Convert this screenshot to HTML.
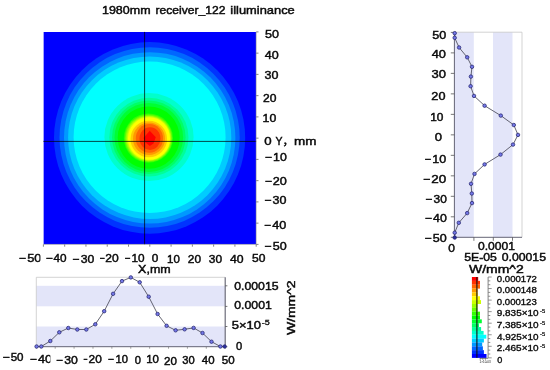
<!DOCTYPE html>
<html><head><meta charset="utf-8"><title>1980mm receiver_122 illuminance</title>
<style>
html,body{margin:0;padding:0;background:#fff}
body{width:550px;height:370px;overflow:hidden}
svg{display:block}
text{font-family:"Liberation Sans","Noto Sans CJK SC",sans-serif;fill:#0a0a0a;stroke:#0a0a0a;stroke-width:0.45px;paint-order:stroke}
</style></head><body>
<svg width="550" height="370" viewBox="0 0 550 370">
<rect width="550" height="370" fill="#fff"/>
<clipPath id="hc"><rect x="43.4" y="31.9" width="212.8" height="212.5"/></clipPath>
<g clip-path="url(#hc)">
<rect x="43.4" y="31.9" width="212.8" height="212.5" fill="#0000ff"/>
<ellipse cx="149.6" cy="137.9" rx="95.6" ry="95.8" fill="#0033ff"/>
<ellipse cx="149.6" cy="137.5" rx="90.1" ry="90.3" fill="#0066ff"/>
<ellipse cx="149.7" cy="137.9" rx="85.7" ry="85.7" fill="#0099ff"/>
<ellipse cx="149.7" cy="137.7" rx="81.6" ry="81.3" fill="#00ccff"/>
<ellipse cx="149.6" cy="137.3" rx="76.0" ry="75.7" fill="#00ffff"/>
<ellipse cx="149.0" cy="137.1" rx="44.6" ry="44.0" fill="#00ffcc"/>
<ellipse cx="148.9" cy="137.2" rx="39.6" ry="39.4" fill="#00ff99"/>
<ellipse cx="148.8" cy="137.3" rx="36.8" ry="36.8" fill="#00ff66"/>
<ellipse cx="148.8" cy="137.4" rx="34.3" ry="34.5" fill="#00ff33"/>
<ellipse cx="148.7" cy="137.6" rx="31.0" ry="31.2" fill="#00ff00"/>
<ellipse cx="148.4" cy="138.1" rx="24.6" ry="24.6" fill="#33ff00"/>
<ellipse cx="148.5" cy="138.2" rx="23.7" ry="23.8" fill="#66ff00"/>
<ellipse cx="148.6" cy="138.3" rx="22.8" ry="22.9" fill="#99ff00"/>
<ellipse cx="148.8" cy="138.4" rx="21.9" ry="22.1" fill="#ccff00"/>
<ellipse cx="149.0" cy="138.5" rx="21.0" ry="21.3" fill="#ffff00"/>
<ellipse cx="148.8" cy="139.0" rx="18.3" ry="18.3" fill="#ffcc00"/>
<ellipse cx="149.0" cy="138.7" rx="16.0" ry="16.3" fill="#ff9900"/>
<ellipse cx="149.4" cy="138.4" rx="13.6" ry="14.4" fill="#ff6600"/>
<ellipse cx="150.0" cy="138.6" rx="10.5" ry="11.3" fill="#ff3300"/>
<polygon points="149.7,130.8 155.8,137.2 153.5,143.5 149.8,146.0 145.5,142.5 143.5,138.0" fill="#ff0000"/>
</g>
<line x1="144.6" y1="31.9" x2="144.6" y2="244.4" stroke="#000" stroke-width="0.9" opacity="0.8"/>
<line x1="43.4" y1="141.4" x2="256.2" y2="141.4" stroke="#000" stroke-width="0.9" opacity="0.8"/>
<path d="M256.2 31.9V244.4H43.4" fill="none" stroke="#999" stroke-width="0.6"/>
<line x1="256.2" y1="31.90" x2="258.5" y2="31.90" stroke="#666" stroke-width="0.8"/>
<line x1="43.40" y1="244.4" x2="43.40" y2="246.70000000000002" stroke="#666" stroke-width="0.8"/>
<line x1="256.2" y1="53.15" x2="258.5" y2="53.15" stroke="#666" stroke-width="0.8"/>
<line x1="64.68" y1="244.4" x2="64.68" y2="246.70000000000002" stroke="#666" stroke-width="0.8"/>
<line x1="256.2" y1="74.40" x2="258.5" y2="74.40" stroke="#666" stroke-width="0.8"/>
<line x1="85.96" y1="244.4" x2="85.96" y2="246.70000000000002" stroke="#666" stroke-width="0.8"/>
<line x1="256.2" y1="95.65" x2="258.5" y2="95.65" stroke="#666" stroke-width="0.8"/>
<line x1="107.24" y1="244.4" x2="107.24" y2="246.70000000000002" stroke="#666" stroke-width="0.8"/>
<line x1="256.2" y1="116.90" x2="258.5" y2="116.90" stroke="#666" stroke-width="0.8"/>
<line x1="128.52" y1="244.4" x2="128.52" y2="246.70000000000002" stroke="#666" stroke-width="0.8"/>
<line x1="256.2" y1="138.15" x2="258.5" y2="138.15" stroke="#666" stroke-width="0.8"/>
<line x1="149.80" y1="244.4" x2="149.80" y2="246.70000000000002" stroke="#666" stroke-width="0.8"/>
<line x1="256.2" y1="159.40" x2="258.5" y2="159.40" stroke="#666" stroke-width="0.8"/>
<line x1="171.08" y1="244.4" x2="171.08" y2="246.70000000000002" stroke="#666" stroke-width="0.8"/>
<line x1="256.2" y1="180.65" x2="258.5" y2="180.65" stroke="#666" stroke-width="0.8"/>
<line x1="192.36" y1="244.4" x2="192.36" y2="246.70000000000002" stroke="#666" stroke-width="0.8"/>
<line x1="256.2" y1="201.90" x2="258.5" y2="201.90" stroke="#666" stroke-width="0.8"/>
<line x1="213.64" y1="244.4" x2="213.64" y2="246.70000000000002" stroke="#666" stroke-width="0.8"/>
<line x1="256.2" y1="223.15" x2="258.5" y2="223.15" stroke="#666" stroke-width="0.8"/>
<line x1="234.92" y1="244.4" x2="234.92" y2="246.70000000000002" stroke="#666" stroke-width="0.8"/>
<line x1="256.2" y1="244.40" x2="258.5" y2="244.40" stroke="#666" stroke-width="0.8"/>
<line x1="256.20" y1="244.4" x2="256.20" y2="246.70000000000002" stroke="#666" stroke-width="0.8"/>
<text y="14.4" font-size="11.4"><tspan x="101.97" textLength="48.63" lengthAdjust="spacingAndGlyphs">1980mm</tspan> <tspan x="155.42" textLength="69.96" lengthAdjust="spacingAndGlyphs">receiver_122</tspan> <tspan x="230.36" textLength="64.38" lengthAdjust="spacingAndGlyphs">illuminance</tspan></text>
<text x="265.12" y="37.90" font-size="11.4" textLength="13.94" lengthAdjust="spacingAndGlyphs">50</text>
<text x="264.74" y="58.60" font-size="11.4" textLength="13.93" lengthAdjust="spacingAndGlyphs">40</text>
<text x="264.55" y="79.10" font-size="11.4" textLength="13.92" lengthAdjust="spacingAndGlyphs">30</text>
<text x="263.12" y="101.90" font-size="11.4" textLength="13.43" lengthAdjust="spacingAndGlyphs">20</text>
<text x="262.59" y="122.40" font-size="11.4" textLength="13.67" lengthAdjust="spacingAndGlyphs">10</text>
<text x="264.21" y="144.60" font-size="11.4" textLength="7.39" lengthAdjust="spacingAndGlyphs">0</text>
<text y="144.6" font-size="11.4"><tspan x="275.39" textLength="7.01" lengthAdjust="spacingAndGlyphs">Y</tspan>，<tspan x="294.03" textLength="22.43" lengthAdjust="spacingAndGlyphs">mm</tspan></text>
<text x="265.02" y="161.40" font-size="11.4" textLength="7.15" lengthAdjust="spacingAndGlyphs">−</text>
<text x="273.09" y="161.40" font-size="11.4" textLength="13.67" lengthAdjust="spacingAndGlyphs">10</text>
<text x="265.02" y="184.90" font-size="11.4" textLength="7.15" lengthAdjust="spacingAndGlyphs">−</text>
<text x="272.69" y="184.90" font-size="11.4" textLength="14.08" lengthAdjust="spacingAndGlyphs">20</text>
<text x="264.62" y="204.10" font-size="11.4" textLength="7.15" lengthAdjust="spacingAndGlyphs">−</text>
<text x="272.55" y="204.10" font-size="11.4" textLength="13.92" lengthAdjust="spacingAndGlyphs">30</text>
<text x="264.34" y="229.00" font-size="11.4" textLength="6.91" lengthAdjust="spacingAndGlyphs">−</text>
<text x="272.24" y="229.00" font-size="11.4" textLength="14.03" lengthAdjust="spacingAndGlyphs">40</text>
<text x="264.62" y="250.10" font-size="11.4" textLength="7.15" lengthAdjust="spacingAndGlyphs">−</text>
<text x="272.82" y="250.10" font-size="11.4" textLength="13.94" lengthAdjust="spacingAndGlyphs">50</text>
<clipPath id="c50"><rect x="15" y="250" width="25.4" height="16"/></clipPath>
<g clip-path="url(#c50)">
<text x="19.12" y="262.20" font-size="11.4" textLength="7.15" lengthAdjust="spacingAndGlyphs">−</text>
<text x="27.21" y="262.20" font-size="11.4" textLength="14.26" lengthAdjust="spacingAndGlyphs">50</text>
</g>
<text x="46.04" y="262.40" font-size="11.4" textLength="6.91" lengthAdjust="spacingAndGlyphs">−</text>
<text x="53.56" y="262.40" font-size="11.4" textLength="13.08" lengthAdjust="spacingAndGlyphs">40</text>
<text x="72.63" y="262.50" font-size="11.4" textLength="7.03" lengthAdjust="spacingAndGlyphs">−</text>
<text x="80.76" y="262.50" font-size="11.4" textLength="13.59" lengthAdjust="spacingAndGlyphs">30</text>
<text x="99.69" y="261.80" font-size="11.4" textLength="5.11" lengthAdjust="spacingAndGlyphs">−</text>
<text x="105.32" y="261.80" font-size="11.4" textLength="13.43" lengthAdjust="spacingAndGlyphs">20</text>
<text x="124.74" y="261.80" font-size="11.4" textLength="5.71" lengthAdjust="spacingAndGlyphs">−</text>
<text x="131.53" y="261.80" font-size="11.4" textLength="13.11" lengthAdjust="spacingAndGlyphs">10</text>
<text x="151.76" y="261.50" font-size="11.4" textLength="6.57" lengthAdjust="spacingAndGlyphs">0</text>
<text x="167.05" y="262.70" font-size="11.4" textLength="12.77" lengthAdjust="spacingAndGlyphs">10</text>
<text x="187.83" y="262.80" font-size="11.4" textLength="13.21" lengthAdjust="spacingAndGlyphs">20</text>
<text x="208.77" y="262.60" font-size="11.4" textLength="13.27" lengthAdjust="spacingAndGlyphs">30</text>
<text x="230.04" y="262.50" font-size="11.4" textLength="13.61" lengthAdjust="spacingAndGlyphs">40</text>
<text x="251.94" y="262.30" font-size="11.4" textLength="13.40" lengthAdjust="spacingAndGlyphs">50</text>
<text x="138.14" y="273.10" font-size="11.4" textLength="32.66" lengthAdjust="spacingAndGlyphs">X,mm</text>
<rect x="36.3" y="285.8" width="188.9" height="20.5" fill="#e3e5f9"/>
<rect x="36.3" y="326.5" width="188.9" height="20.2" fill="#e3e5f9"/>
<path d="M36.3 346.7V277.3H225.2V346.7" fill="none" stroke="#c8c8c8" stroke-width="0.8"/>
<path d="M36.3 346.7H225.2V277.3" fill="none" stroke="#556" stroke-width="0.9"/>
<line x1="225.2" y1="285.8" x2="227.39999999999998" y2="285.8" stroke="#555" stroke-width="0.8"/>
<line x1="225.2" y1="306.4" x2="227.39999999999998" y2="306.4" stroke="#555" stroke-width="0.8"/>
<line x1="225.2" y1="326.5" x2="227.39999999999998" y2="326.5" stroke="#555" stroke-width="0.8"/>
<line x1="225.2" y1="346.7" x2="227.39999999999998" y2="346.7" stroke="#555" stroke-width="0.8"/>
<line x1="36.30" y1="346.7" x2="36.30" y2="348.7" stroke="#777" stroke-width="0.7"/>
<line x1="55.19" y1="346.7" x2="55.19" y2="348.7" stroke="#777" stroke-width="0.7"/>
<line x1="74.08" y1="346.7" x2="74.08" y2="348.7" stroke="#777" stroke-width="0.7"/>
<line x1="92.97" y1="346.7" x2="92.97" y2="348.7" stroke="#777" stroke-width="0.7"/>
<line x1="111.86" y1="346.7" x2="111.86" y2="348.7" stroke="#777" stroke-width="0.7"/>
<line x1="130.75" y1="346.7" x2="130.75" y2="348.7" stroke="#777" stroke-width="0.7"/>
<line x1="149.64" y1="346.7" x2="149.64" y2="348.7" stroke="#777" stroke-width="0.7"/>
<line x1="168.53" y1="346.7" x2="168.53" y2="348.7" stroke="#777" stroke-width="0.7"/>
<line x1="187.42" y1="346.7" x2="187.42" y2="348.7" stroke="#777" stroke-width="0.7"/>
<line x1="206.31" y1="346.7" x2="206.31" y2="348.7" stroke="#777" stroke-width="0.7"/>
<line x1="225.20" y1="346.7" x2="225.20" y2="348.7" stroke="#777" stroke-width="0.7"/>
<polyline points="36.6,346.5 41.3,346.5 50.3,341 59.3,332.3 68.3,328 77.3,329.5 86.3,329.5 95.3,324.3 104.2,311.2 113.1,293.8 122.0,281.1 130.8,277.4 139.7,282.3 148.7,296.7 157.6,314 166.6,325.8 175.6,330.3 184.6,329.3 193.6,327.9 202.5,333 211.5,341.7 220.4,346.5 224.7,346.5" fill="none" stroke="#4a4a58" stroke-width="0.85"/>
<circle cx="36.6" cy="346.5" r="1.75" fill="#7478e8" stroke="#26266f" stroke-width="0.75"/>
<circle cx="41.3" cy="346.5" r="1.75" fill="#7478e8" stroke="#26266f" stroke-width="0.75"/>
<circle cx="50.3" cy="341" r="1.75" fill="#7478e8" stroke="#26266f" stroke-width="0.75"/>
<circle cx="59.3" cy="332.3" r="1.75" fill="#7478e8" stroke="#26266f" stroke-width="0.75"/>
<circle cx="68.3" cy="328" r="1.75" fill="#7478e8" stroke="#26266f" stroke-width="0.75"/>
<circle cx="77.3" cy="329.5" r="1.75" fill="#7478e8" stroke="#26266f" stroke-width="0.75"/>
<circle cx="86.3" cy="329.5" r="1.75" fill="#7478e8" stroke="#26266f" stroke-width="0.75"/>
<circle cx="95.3" cy="324.3" r="1.75" fill="#7478e8" stroke="#26266f" stroke-width="0.75"/>
<circle cx="104.2" cy="311.2" r="1.75" fill="#7478e8" stroke="#26266f" stroke-width="0.75"/>
<circle cx="113.1" cy="293.8" r="1.75" fill="#7478e8" stroke="#26266f" stroke-width="0.75"/>
<circle cx="122.0" cy="281.1" r="1.75" fill="#7478e8" stroke="#26266f" stroke-width="0.75"/>
<circle cx="130.8" cy="277.4" r="1.75" fill="#7478e8" stroke="#26266f" stroke-width="0.75"/>
<circle cx="139.7" cy="282.3" r="1.75" fill="#7478e8" stroke="#26266f" stroke-width="0.75"/>
<circle cx="148.7" cy="296.7" r="1.75" fill="#7478e8" stroke="#26266f" stroke-width="0.75"/>
<circle cx="157.6" cy="314" r="1.75" fill="#7478e8" stroke="#26266f" stroke-width="0.75"/>
<circle cx="166.6" cy="325.8" r="1.75" fill="#7478e8" stroke="#26266f" stroke-width="0.75"/>
<circle cx="175.6" cy="330.3" r="1.75" fill="#7478e8" stroke="#26266f" stroke-width="0.75"/>
<circle cx="184.6" cy="329.3" r="1.75" fill="#7478e8" stroke="#26266f" stroke-width="0.75"/>
<circle cx="193.6" cy="327.9" r="1.75" fill="#7478e8" stroke="#26266f" stroke-width="0.75"/>
<circle cx="202.5" cy="333" r="1.75" fill="#7478e8" stroke="#26266f" stroke-width="0.75"/>
<circle cx="211.5" cy="341.7" r="1.75" fill="#7478e8" stroke="#26266f" stroke-width="0.75"/>
<circle cx="220.4" cy="346.5" r="1.75" fill="#7478e8" stroke="#26266f" stroke-width="0.75"/>
<circle cx="224.7" cy="346.5" r="1.75" fill="#2b2f9e" stroke="#26266f" stroke-width="0.75"/>
<text x="234.25" y="290.20" font-size="11.4" textLength="44.34" lengthAdjust="spacingAndGlyphs">0.00015</text>
<text x="234.25" y="309.40" font-size="11.4" textLength="37.53" lengthAdjust="spacingAndGlyphs">0.0001</text>
<text x="231.71" y="328.90" font-size="11.4" textLength="29.17" lengthAdjust="spacingAndGlyphs">5×10</text>
<text x="261.82" y="324.60" font-size="7.4" style="stroke-width:0.29px" textLength="8.03" lengthAdjust="spacingAndGlyphs">-5</text>
<text x="236.09" y="349.60" font-size="11.4" textLength="6.22" lengthAdjust="spacingAndGlyphs">0</text>
<g transform="translate(295.3,335.2) rotate(-90)">
<text x="0.16" y="0.00" font-size="11.4" textLength="54.51" lengthAdjust="spacingAndGlyphs">W/mm^2</text>
</g>
<text x="2.82" y="361.40" font-size="11.4" textLength="7.15" lengthAdjust="spacingAndGlyphs">−</text>
<text x="10.66" y="361.40" font-size="11.4" textLength="12.86" lengthAdjust="spacingAndGlyphs">50</text>
<clipPath id="c40"><rect x="26" y="350" width="24.3" height="16"/></clipPath>
<g clip-path="url(#c40)">
<text x="29.93" y="362.50" font-size="11.4" textLength="7.03" lengthAdjust="spacingAndGlyphs">−</text>
<text x="38.03" y="362.50" font-size="11.4" textLength="14.14" lengthAdjust="spacingAndGlyphs">40</text>
</g>
<text x="56.15" y="363.90" font-size="11.4" textLength="6.79" lengthAdjust="spacingAndGlyphs">−</text>
<text x="64.26" y="363.90" font-size="11.4" textLength="13.59" lengthAdjust="spacingAndGlyphs">30</text>
<text x="83.58" y="363.20" font-size="11.4" textLength="4.03" lengthAdjust="spacingAndGlyphs">−</text>
<text x="88.63" y="363.20" font-size="11.4" textLength="13.21" lengthAdjust="spacingAndGlyphs">20</text>
<text x="107.91" y="363.20" font-size="11.4" textLength="6.07" lengthAdjust="spacingAndGlyphs">−</text>
<text x="115.57" y="363.20" font-size="11.4" textLength="12.44" lengthAdjust="spacingAndGlyphs">10</text>
<text x="134.69" y="363.60" font-size="11.4" textLength="6.22" lengthAdjust="spacingAndGlyphs">0</text>
<text x="146.15" y="363.20" font-size="11.4" textLength="12.77" lengthAdjust="spacingAndGlyphs">10</text>
<text x="163.94" y="364.50" font-size="11.4" textLength="12.89" lengthAdjust="spacingAndGlyphs">20</text>
<text x="182.30" y="363.90" font-size="11.4" textLength="12.41" lengthAdjust="spacingAndGlyphs">30</text>
<text x="201.86" y="363.70" font-size="11.4" textLength="12.76" lengthAdjust="spacingAndGlyphs">40</text>
<text x="221.76" y="363.70" font-size="11.4" textLength="12.86" lengthAdjust="spacingAndGlyphs">50</text>
<rect x="454.4" y="32.2" width="19.4" height="205.1" fill="#e3e5f9"/>
<rect x="493.0" y="32.2" width="19.5" height="205.1" fill="#e3e5f9"/>
<path d="M454.4 32.2H522.0V237.3" fill="none" stroke="#c8c8c8" stroke-width="0.8"/>
<path d="M454.4 32.2V237.3H522.0" fill="none" stroke="#556" stroke-width="0.9"/>
<line x1="450.79999999999995" y1="32.40" x2="454.4" y2="32.40" stroke="#555" stroke-width="0.8"/>
<line x1="450.79999999999995" y1="52.89" x2="454.4" y2="52.89" stroke="#555" stroke-width="0.8"/>
<line x1="450.79999999999995" y1="73.38" x2="454.4" y2="73.38" stroke="#555" stroke-width="0.8"/>
<line x1="450.79999999999995" y1="93.87" x2="454.4" y2="93.87" stroke="#555" stroke-width="0.8"/>
<line x1="450.79999999999995" y1="114.36" x2="454.4" y2="114.36" stroke="#555" stroke-width="0.8"/>
<line x1="450.79999999999995" y1="134.85" x2="454.4" y2="134.85" stroke="#555" stroke-width="0.8"/>
<line x1="450.79999999999995" y1="155.34" x2="454.4" y2="155.34" stroke="#555" stroke-width="0.8"/>
<line x1="450.79999999999995" y1="175.83" x2="454.4" y2="175.83" stroke="#555" stroke-width="0.8"/>
<line x1="450.79999999999995" y1="196.32" x2="454.4" y2="196.32" stroke="#555" stroke-width="0.8"/>
<line x1="450.79999999999995" y1="216.81" x2="454.4" y2="216.81" stroke="#555" stroke-width="0.8"/>
<line x1="450.79999999999995" y1="237.30" x2="454.4" y2="237.30" stroke="#555" stroke-width="0.8"/>
<line x1="473.9" y1="237.3" x2="473.9" y2="240.8" stroke="#555" stroke-width="0.8"/>
<line x1="493.3" y1="237.3" x2="493.3" y2="240.8" stroke="#555" stroke-width="0.8"/>
<line x1="512.5" y1="237.3" x2="512.5" y2="240.8" stroke="#555" stroke-width="0.8"/>
<polyline points="454.7,33.2 454.7,37.8 459.1,47.5 467.2,57.3 472,66.8 470.9,76.6 470.6,86.2 474,95.9 484.6,105.7 500.8,115.6 513.8,125 518,134.9 513,144.6 500.5,154.6 484.6,164.4 474.5,173.9 471,183.8 471.8,193.5 472,203.1 467.2,213.1 458.8,222.8 454.7,232.7 454.7,237.6" fill="none" stroke="#4a4a58" stroke-width="0.85"/>
<circle cx="454.7" cy="33.2" r="1.75" fill="#7478e8" stroke="#26266f" stroke-width="0.75"/>
<circle cx="454.7" cy="37.8" r="1.75" fill="#7478e8" stroke="#26266f" stroke-width="0.75"/>
<circle cx="459.1" cy="47.5" r="1.75" fill="#7478e8" stroke="#26266f" stroke-width="0.75"/>
<circle cx="467.2" cy="57.3" r="1.75" fill="#7478e8" stroke="#26266f" stroke-width="0.75"/>
<circle cx="472" cy="66.8" r="1.75" fill="#7478e8" stroke="#26266f" stroke-width="0.75"/>
<circle cx="470.9" cy="76.6" r="1.75" fill="#7478e8" stroke="#26266f" stroke-width="0.75"/>
<circle cx="470.6" cy="86.2" r="1.75" fill="#7478e8" stroke="#26266f" stroke-width="0.75"/>
<circle cx="474" cy="95.9" r="1.75" fill="#7478e8" stroke="#26266f" stroke-width="0.75"/>
<circle cx="484.6" cy="105.7" r="1.75" fill="#7478e8" stroke="#26266f" stroke-width="0.75"/>
<circle cx="500.8" cy="115.6" r="1.75" fill="#7478e8" stroke="#26266f" stroke-width="0.75"/>
<circle cx="513.8" cy="125" r="1.75" fill="#7478e8" stroke="#26266f" stroke-width="0.75"/>
<circle cx="518" cy="134.9" r="1.75" fill="#7478e8" stroke="#26266f" stroke-width="0.75"/>
<circle cx="513" cy="144.6" r="1.75" fill="#7478e8" stroke="#26266f" stroke-width="0.75"/>
<circle cx="500.5" cy="154.6" r="1.75" fill="#7478e8" stroke="#26266f" stroke-width="0.75"/>
<circle cx="484.6" cy="164.4" r="1.75" fill="#7478e8" stroke="#26266f" stroke-width="0.75"/>
<circle cx="474.5" cy="173.9" r="1.75" fill="#7478e8" stroke="#26266f" stroke-width="0.75"/>
<circle cx="471" cy="183.8" r="1.75" fill="#7478e8" stroke="#26266f" stroke-width="0.75"/>
<circle cx="471.8" cy="193.5" r="1.75" fill="#7478e8" stroke="#26266f" stroke-width="0.75"/>
<circle cx="472" cy="203.1" r="1.75" fill="#7478e8" stroke="#26266f" stroke-width="0.75"/>
<circle cx="467.2" cy="213.1" r="1.75" fill="#7478e8" stroke="#26266f" stroke-width="0.75"/>
<circle cx="458.8" cy="222.8" r="1.75" fill="#7478e8" stroke="#26266f" stroke-width="0.75"/>
<circle cx="454.7" cy="232.7" r="1.75" fill="#7478e8" stroke="#26266f" stroke-width="0.75"/>
<circle cx="454.7" cy="237.6" r="1.75" fill="#2b2f9e" stroke="#26266f" stroke-width="0.75"/>
<text x="432.32" y="39.30" font-size="11.4" textLength="13.94" lengthAdjust="spacingAndGlyphs">50</text>
<text x="431.73" y="57.60" font-size="11.4" textLength="14.24" lengthAdjust="spacingAndGlyphs">40</text>
<text x="431.53" y="77.80" font-size="11.4" textLength="14.45" lengthAdjust="spacingAndGlyphs">30</text>
<text x="431.39" y="99.80" font-size="11.4" textLength="14.08" lengthAdjust="spacingAndGlyphs">20</text>
<text x="430.22" y="120.70" font-size="11.4" textLength="13.22" lengthAdjust="spacingAndGlyphs">10</text>
<text x="434.81" y="140.60" font-size="11.4" textLength="7.27" lengthAdjust="spacingAndGlyphs">0</text>
<text x="424.78" y="163.40" font-size="11.4" textLength="6.43" lengthAdjust="spacingAndGlyphs">−</text>
<text x="432.37" y="163.40" font-size="11.4" textLength="13.89" lengthAdjust="spacingAndGlyphs">10</text>
<text x="423.32" y="183.20" font-size="11.4" textLength="7.15" lengthAdjust="spacingAndGlyphs">−</text>
<text x="431.35" y="183.20" font-size="11.4" textLength="14.95" lengthAdjust="spacingAndGlyphs">20</text>
<text x="425.54" y="203.40" font-size="11.4" textLength="6.91" lengthAdjust="spacingAndGlyphs">−</text>
<text x="433.57" y="203.40" font-size="11.4" textLength="13.27" lengthAdjust="spacingAndGlyphs">30</text>
<text x="425.02" y="221.80" font-size="11.4" textLength="7.15" lengthAdjust="spacingAndGlyphs">−</text>
<text x="433.04" y="221.80" font-size="11.4" textLength="13.71" lengthAdjust="spacingAndGlyphs">40</text>
<text x="424.73" y="242.20" font-size="11.4" textLength="7.03" lengthAdjust="spacingAndGlyphs">−</text>
<text x="432.82" y="242.20" font-size="11.4" textLength="13.94" lengthAdjust="spacingAndGlyphs">50</text>
<text x="448.26" y="251.90" font-size="10.6" style="stroke-width:0.42px" textLength="6.69" lengthAdjust="spacingAndGlyphs">0</text>
<text x="478.05" y="249.70" font-size="11.4" textLength="36.91" lengthAdjust="spacingAndGlyphs">0.0001</text>
<text x="464.24" y="261.30" font-size="11.4" textLength="32.55" lengthAdjust="spacingAndGlyphs">5E-05</text>
<text x="501.75" y="261.30" font-size="11.4" textLength="44.24" lengthAdjust="spacingAndGlyphs">0.00015</text>
<text x="468.96" y="272.70" font-size="11.4" textLength="54.71" lengthAdjust="spacingAndGlyphs">W/mm^2</text>
<rect x="471.9" y="277.00" width="6.3" height="3.90" fill="#ff0000"/>
<rect x="471.9" y="280.85" width="8.1" height="3.90" fill="#ff3300"/>
<rect x="471.9" y="284.70" width="8.1" height="3.90" fill="#ff6600"/>
<rect x="471.9" y="288.55" width="5.7" height="3.90" fill="#ff9900"/>
<rect x="471.9" y="292.40" width="5.9" height="3.90" fill="#ffcc00"/>
<rect x="471.9" y="296.25" width="8.1" height="3.90" fill="#ffff00"/>
<rect x="471.9" y="300.10" width="9.1" height="3.90" fill="#ccff00"/>
<rect x="471.9" y="303.95" width="5.6" height="3.90" fill="#99ff00"/>
<rect x="471.9" y="307.80" width="5.6" height="3.90" fill="#66ff00"/>
<rect x="471.9" y="311.65" width="8.1" height="3.90" fill="#33ff00"/>
<rect x="471.9" y="315.50" width="8.1" height="3.90" fill="#00ff00"/>
<rect x="471.9" y="319.35" width="9.9" height="3.90" fill="#00ff33"/>
<rect x="471.9" y="323.20" width="7.1" height="3.90" fill="#00ff66"/>
<rect x="471.9" y="327.05" width="9.2" height="3.90" fill="#00ff99"/>
<rect x="471.9" y="330.90" width="11.7" height="3.90" fill="#00ffcc"/>
<rect x="471.9" y="334.75" width="14.4" height="3.90" fill="#00ffff"/>
<rect x="471.9" y="338.60" width="12.0" height="3.90" fill="#00ccff"/>
<rect x="471.9" y="342.45" width="10.3" height="3.90" fill="#0099ff"/>
<rect x="471.9" y="346.30" width="11.0" height="3.90" fill="#0066ff"/>
<rect x="471.9" y="350.15" width="12.0" height="3.90" fill="#0033ff"/>
<rect x="471.9" y="354.00" width="14.6" height="3.90" fill="#0000ff"/>
<line x1="476.9" y1="277.0" x2="476.9" y2="357.85" stroke="#111" stroke-width="1.1"/>
<line x1="488.1" y1="277.0" x2="488.1" y2="357.85" stroke="#777" stroke-width="0.9"/>
<line x1="488.1" y1="277.00" x2="491.70000000000005" y2="277.00" stroke="#777" stroke-width="0.8"/>
<line x1="488.1" y1="280.85" x2="490.3" y2="280.85" stroke="#777" stroke-width="0.8"/>
<line x1="488.1" y1="284.70" x2="490.3" y2="284.70" stroke="#777" stroke-width="0.8"/>
<line x1="488.1" y1="288.55" x2="491.70000000000005" y2="288.55" stroke="#777" stroke-width="0.8"/>
<line x1="488.1" y1="292.40" x2="490.3" y2="292.40" stroke="#777" stroke-width="0.8"/>
<line x1="488.1" y1="296.25" x2="490.3" y2="296.25" stroke="#777" stroke-width="0.8"/>
<line x1="488.1" y1="300.10" x2="491.70000000000005" y2="300.10" stroke="#777" stroke-width="0.8"/>
<line x1="488.1" y1="303.95" x2="490.3" y2="303.95" stroke="#777" stroke-width="0.8"/>
<line x1="488.1" y1="307.80" x2="490.3" y2="307.80" stroke="#777" stroke-width="0.8"/>
<line x1="488.1" y1="311.65" x2="491.70000000000005" y2="311.65" stroke="#777" stroke-width="0.8"/>
<line x1="488.1" y1="315.50" x2="490.3" y2="315.50" stroke="#777" stroke-width="0.8"/>
<line x1="488.1" y1="319.35" x2="490.3" y2="319.35" stroke="#777" stroke-width="0.8"/>
<line x1="488.1" y1="323.20" x2="491.70000000000005" y2="323.20" stroke="#777" stroke-width="0.8"/>
<line x1="488.1" y1="327.05" x2="490.3" y2="327.05" stroke="#777" stroke-width="0.8"/>
<line x1="488.1" y1="330.90" x2="490.3" y2="330.90" stroke="#777" stroke-width="0.8"/>
<line x1="488.1" y1="334.75" x2="491.70000000000005" y2="334.75" stroke="#777" stroke-width="0.8"/>
<line x1="488.1" y1="338.60" x2="490.3" y2="338.60" stroke="#777" stroke-width="0.8"/>
<line x1="488.1" y1="342.45" x2="490.3" y2="342.45" stroke="#777" stroke-width="0.8"/>
<line x1="488.1" y1="346.30" x2="491.70000000000005" y2="346.30" stroke="#777" stroke-width="0.8"/>
<line x1="488.1" y1="350.15" x2="490.3" y2="350.15" stroke="#777" stroke-width="0.8"/>
<line x1="488.1" y1="354.00" x2="490.3" y2="354.00" stroke="#777" stroke-width="0.8"/>
<line x1="488.1" y1="357.85" x2="491.70000000000005" y2="357.85" stroke="#777" stroke-width="0.8"/>
<line x1="479.8" y1="358.3" x2="488.1" y2="358.3" stroke="#444" stroke-width="0.7"/>
<line x1="480.2" y1="358.3" x2="480.2" y2="359.8" stroke="#444" stroke-width="0.6"/>
<line x1="482.8" y1="358.3" x2="482.8" y2="359.8" stroke="#444" stroke-width="0.6"/>
<line x1="485.4" y1="358.3" x2="485.4" y2="359.8" stroke="#444" stroke-width="0.6"/>
<text x="479.6" y="363.3" font-size="3" fill="#8a9ab5" style="stroke:none">1×10-03</text>
<text x="496.85" y="281.50" font-size="8.7" style="stroke-width:0.34px" textLength="40.01" lengthAdjust="spacingAndGlyphs">0.000172</text>
<text x="496.85" y="293.13" font-size="8.7" style="stroke-width:0.34px" textLength="39.94" lengthAdjust="spacingAndGlyphs">0.000148</text>
<text x="496.85" y="304.76" font-size="8.7" style="stroke-width:0.34px" textLength="39.94" lengthAdjust="spacingAndGlyphs">0.000123</text>
<text x="496.76" y="316.39" font-size="8.7" style="stroke-width:0.34px" textLength="41.81" lengthAdjust="spacingAndGlyphs">9.835×10</text>
<text x="539.97" y="312.99" font-size="5.6" style="stroke-width:0.22px" textLength="5.15" lengthAdjust="spacingAndGlyphs">-5</text>
<text x="496.71" y="328.02" font-size="8.7" style="stroke-width:0.34px" textLength="41.85" lengthAdjust="spacingAndGlyphs">7.385×10</text>
<text x="539.97" y="324.62" font-size="5.6" style="stroke-width:0.22px" textLength="5.15" lengthAdjust="spacingAndGlyphs">-5</text>
<text x="497.00" y="339.65" font-size="8.7" style="stroke-width:0.34px" textLength="41.56" lengthAdjust="spacingAndGlyphs">4.925×10</text>
<text x="539.97" y="336.25" font-size="5.6" style="stroke-width:0.22px" textLength="5.15" lengthAdjust="spacingAndGlyphs">-5</text>
<text x="496.72" y="351.28" font-size="8.7" style="stroke-width:0.34px" textLength="41.84" lengthAdjust="spacingAndGlyphs">2.465×10</text>
<text x="539.97" y="347.88" font-size="5.6" style="stroke-width:0.22px" textLength="5.15" lengthAdjust="spacingAndGlyphs">-5</text>
<text x="497.27" y="362.91" font-size="8.7" style="stroke-width:0.34px" textLength="5.06" lengthAdjust="spacingAndGlyphs">0</text>
</svg>
</body></html>
